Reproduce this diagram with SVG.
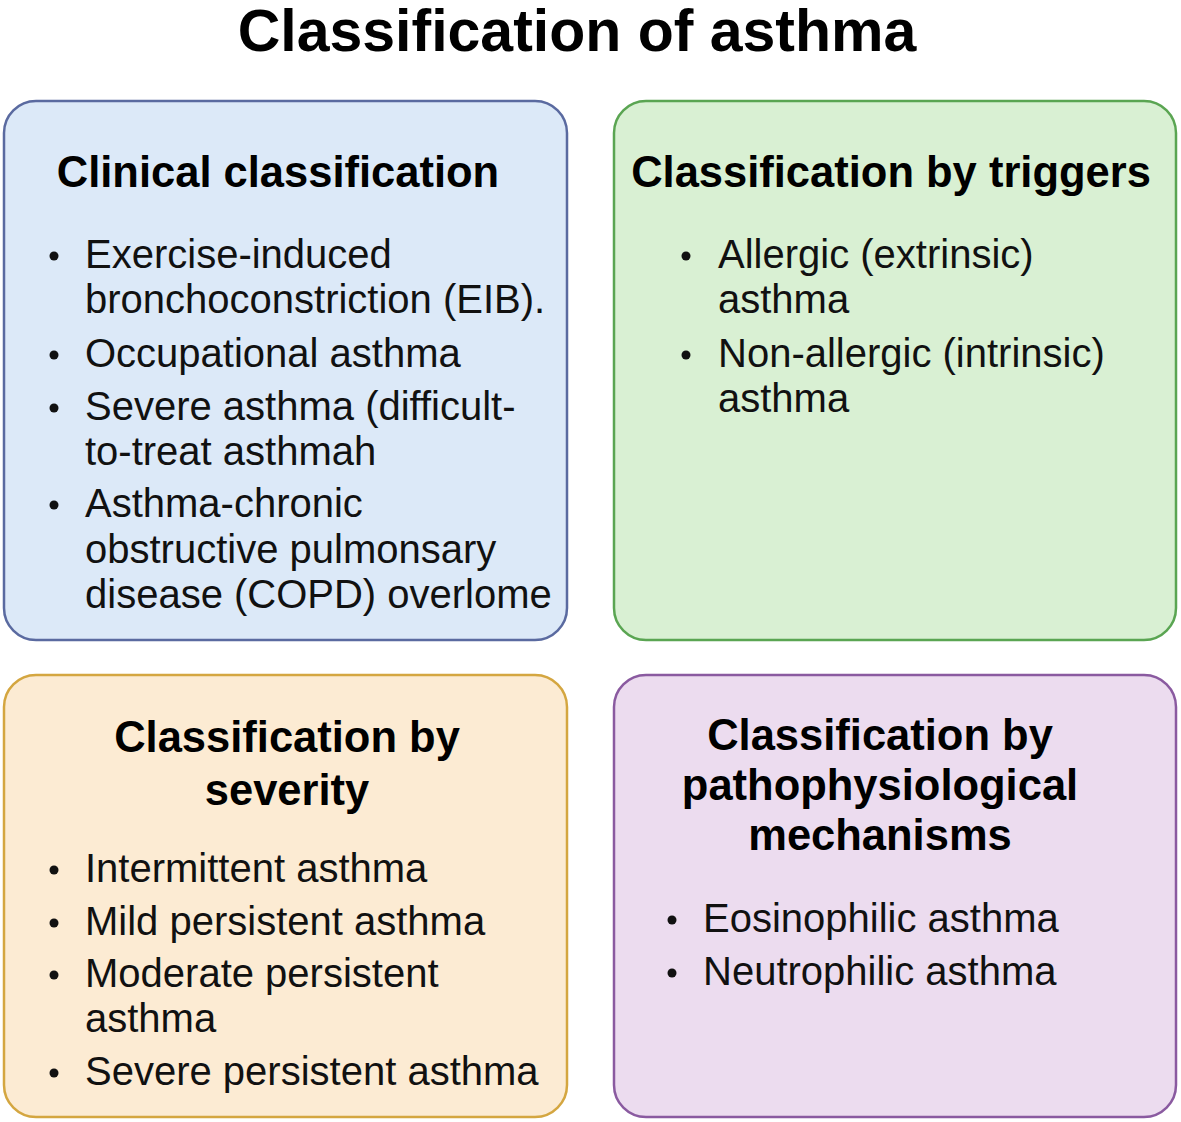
<svg xmlns="http://www.w3.org/2000/svg" width="1181" height="1122" viewBox="0 0 1181 1122">
<style>
.title{font-family:"Liberation Sans",Arial,sans-serif;font-weight:bold;font-size:59px;fill:#000}
.h{font-family:"Liberation Sans",Arial,sans-serif;font-weight:bold;font-size:43.5px;fill:#000}
.t{font-family:"Liberation Sans",Arial,sans-serif;font-size:40px;fill:#111}
.box{stroke-width:2.5}
</style>
<rect width="1181" height="1122" fill="#ffffff"/>
<text class="title" x="577" y="51" text-anchor="middle">Classification of asthma</text>
<g id="clinical">
<rect class="box" x="4" y="101" width="563" height="539" rx="32" fill="#dce9f8" stroke="#5a6aa0"/>
<text class="h" x="278" y="187" text-anchor="middle">Clinical classification</text>
<g fill="#111"><circle cx="54" cy="256" r="4.5"/><circle cx="54" cy="355" r="4.5"/><circle cx="54" cy="408" r="4.5"/><circle cx="54" cy="505" r="4.5"/></g>
<text class="t" x="85" y="268">Exercise-induced</text>
<text class="t" x="85" y="313">bronchoconstriction (EIB).</text>
<text class="t" x="85" y="367">Occupational asthma</text>
<text class="t" x="85" y="420">Severe asthma (difficult-</text>
<text class="t" x="85" y="465">to-treat asthmah</text>
<text class="t" x="85" y="517">Asthma-chronic</text>
<text class="t" x="85" y="563">obstructive pulmonsary</text>
<text class="t" x="85" y="608">disease (COPD) overlome</text>
</g>
<g id="triggers">
<rect class="box" x="614" y="101" width="562" height="539" rx="32" fill="#d9f0d3" stroke="#5aa552"/>
<text class="h" x="891" y="187" text-anchor="middle">Classification by triggers</text>
<g fill="#111"><circle cx="686" cy="256" r="4.5"/><circle cx="686" cy="355" r="4.5"/></g>
<text class="t" x="718" y="268">Allergic (extrinsic)</text>
<text class="t" x="718" y="313">asthma</text>
<text class="t" x="718" y="367">Non-allergic (intrinsic)</text>
<text class="t" x="718" y="412">asthma</text>
</g>
<g id="severity">
<rect class="box" x="4" y="675" width="563" height="442" rx="32" fill="#fcebd3" stroke="#d4a640"/>
<text class="h" x="287" y="752" text-anchor="middle">Classification by</text>
<text class="h" x="287" y="805" text-anchor="middle">severity</text>
<g fill="#111"><circle cx="54" cy="870" r="4.5"/><circle cx="54" cy="923" r="4.5"/><circle cx="54" cy="975" r="4.5"/><circle cx="54" cy="1073" r="4.5"/></g>
<text class="t" x="85" y="882">Intermittent asthma</text>
<text class="t" x="85" y="935">Mild persistent asthma</text>
<text class="t" x="85" y="987">Moderate persistent</text>
<text class="t" x="85" y="1032">asthma</text>
<text class="t" x="85" y="1085">Severe persistent asthma</text>
</g>
<g id="mechanisms">
<rect class="box" x="614" y="675" width="562" height="442" rx="32" fill="#ecdcef" stroke="#8a5aa0"/>
<text class="h" x="880" y="750" text-anchor="middle">Classification by</text>
<text class="h" x="880" y="800" text-anchor="middle">pathophysiological</text>
<text class="h" x="880" y="850" text-anchor="middle">mechanisms</text>
<g fill="#111"><circle cx="672" cy="920" r="4.5"/><circle cx="672" cy="973" r="4.5"/></g>
<text class="t" x="703" y="932">Eosinophilic asthma</text>
<text class="t" x="703" y="985">Neutrophilic asthma</text>
</g>
<g id="connectors"></g>
</svg>
